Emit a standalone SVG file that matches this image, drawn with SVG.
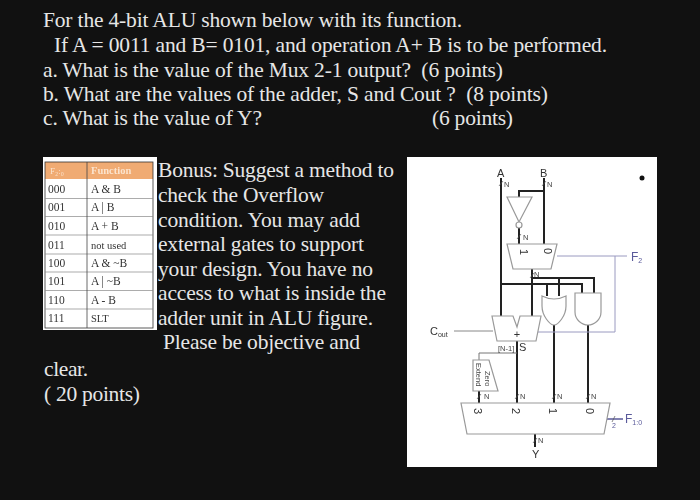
<svg xmlns="http://www.w3.org/2000/svg" width="700" height="500" viewBox="0 0 700 500">
<defs>
<style>
.q{font-family:"Liberation Serif","Times New Roman",serif;font-size:21.5px;fill:#e6e6e6;white-space:pre}
.t{font-family:"Liberation Serif",serif;font-size:11.5px;fill:#333}
.l{font-family:"Liberation Sans",Arial,sans-serif;font-size:11px;fill:#333}
.n{font-family:"Liberation Sans",Arial,sans-serif;font-size:7.5px;fill:#444}
.b{font-family:"Liberation Sans",Arial,sans-serif;fill:#5a5a9a}
.w{fill:none;stroke:#222;stroke-width:2}
.g{fill:#fff;stroke:#999;stroke-width:1.200}
.f{fill:none;stroke:#9a9ac0;stroke-width:1}
.r{stroke:#888;stroke-width:.7}
</style>
<filter id="soft" x="-5%" y="-5%" width="110%" height="110%"><feGaussianBlur stdDeviation="0.4"/></filter>
</defs>
<rect width="700" height="500" fill="#111"/>
<g id="question">
<text class="q" x="43" y="27" textLength="419">For the 4-bit ALU shown below with its function.</text>
<text class="q" x="54" y="52" textLength="553">If A = 0011 and B= 0101, and operation A+ B is to be performed.</text>
<text class="q" x="43" y="77" textLength="460">a. What is the value of the Mux 2-1 output?  (6 points)</text>
<text class="q" x="43" y="101" textLength="505">b. What are the values of the adder, S and Cout ?  (8 points)</text>
<text class="q" x="43" y="125" textLength="219">c. What is the value of Y?</text>
<text class="q" x="432" y="125" textLength="81">(6 points)</text>
</g>
<g id="function-table" filter="url(#soft)">
<rect x="43" y="157" width="114" height="173" fill="#fff"/>
<rect x="45" y="162" width="108" height="17" fill="#f0ab73"/>
<rect x="45" y="162" width="108" height="166" fill="none" stroke="#333" stroke-width=".8"/>
<path class="r" d="M45 198.500H153M45 216.500H153M45 235H153M45 254H153M45 272H153M45 290.500H153M45 309H153"/>
<path d="M87 162V328" stroke="#444" stroke-width=".8"/>
<text x="50" y="174" font-family="Liberation Serif,serif" font-size="9" fill="#fbe3cd">F₂:₀</text>
<text x="91" y="174" font-family="Liberation Serif,serif" font-size="10.500" font-weight="bold" fill="#fbe3cd">Function</text>
<g class="t">
<text x="48" y="193">000</text><text x="91" y="193">A &amp; B</text>
<text x="48" y="211">001</text><text x="91" y="211">A | B</text>
<text x="48" y="230">010</text><text x="91" y="230">A + B</text>
<text x="48" y="249">011</text><text x="91" y="249" font-size="10.500">not used</text>
<text x="48" y="267">100</text><text x="91" y="267">A &amp; ~B</text>
<text x="48" y="285">101</text><text x="91" y="285">A | ~B</text>
<text x="48" y="304">110</text><text x="91" y="304">A - B</text>
<text x="48" y="322">111</text><text x="91" y="322" font-size="10.500">SLT</text>
</g>
</g>
<g id="bonus">
<text class="q" x="158" y="177" textLength="236">Bonus: Suggest a method to</text>
<text class="q" x="158" y="202" textLength="166">check the Overflow</text>
<text class="q" x="158" y="227" textLength="202">condition. You may add</text>
<text class="q" x="158" y="251" textLength="206">external gates to support</text>
<text class="q" x="158" y="276" textLength="215">your design. You have no</text>
<text class="q" x="158" y="300" textLength="228">access to what is inside the</text>
<text class="q" x="158" y="325" textLength="215">adder unit in ALU figure.</text>
<text class="q" x="163" y="349" textLength="197">Please be objective and</text>
<text class="q" x="44" y="376" textLength="44">clear.</text>
<text class="q" x="44" y="401" textLength="96">( 20 points)</text>
</g>
<rect id="panel" x="407" y="157" width="250" height="310" fill="#fff"/>
<circle id="dot" cx="642" cy="178" r="2.500" fill="#111"/>
<g id="diagram" filter="url(#soft)">
<g id="connectors">
<path class="w" d="M501 178V316M544 178V244M544 191H519V197M519 228V244"/>
<path class="w" d="M532 269V316M532 278H594V293M501 284H582V293M547 284V296M559 278V296"/>
<path class="w" d="M517 341V403M554 325V403M588 325V403M479 391V403M535 434V447"/>
<path d="M517 353H479V360" fill="none" stroke="#777" stroke-width="1"/>
<path d="M454 331H493" stroke="#888" stroke-width="1"/>
<path class="f" d="M557 256H627M615 256V332H538"/>
<path d="M607 419H623" stroke="#5a5a9a" stroke-width="1.500"/>
<path d="M499 186l4-5M542 186l4-5M517 239l4-5M530 278l4-5M515 399l4-5M552 399l4-5M586 399l4-5M477 399l4-5M533 443l4-5M612 422l3-6" stroke="#555" stroke-width=".7"/>
</g>
<g id="inverter">
<path class="g" d="M507 197H532L519 222Z"/>
<circle class="g" cx="519" cy="225" r="3"/>
</g>
<g id="mux-2-1">
<path class="g" d="M507 244H557L551 269H513Z"/>
<text class="l" x="520" y="252" transform="rotate(90 520 252)" text-anchor="middle" font-size="10">1</text>
<text class="l" x="544" y="251" transform="rotate(90 544 251)" text-anchor="middle" font-size="10">0</text>
</g>
<g id="or-gate">
<path class="g" d="M542 296Q554 302 566 296V306C566 316 558 325 554 325C550 325 542 316 542 306Z"/>
</g>
<g id="and-gate">
<path class="g" d="M575 293H601V312C601 320 594 325 588 325C582 325 575 320 575 312Z"/>
</g>
<g id="adder">
<path class="g" d="M492 316H513L517 327L520 316H541L536 341H497Z"/>
<text class="l" x="517" y="338" text-anchor="middle">+</text>
</g>
<g id="zero-extend">
<path class="g" d="M473 360H489L498 391H473Z"/>
<text class="n" x="476" y="363" transform="rotate(90 476 363)" font-size="8">Extend</text>
<text class="n" x="485" y="371" transform="rotate(90 485 371)" font-size="8">Zero</text>
</g>
<g id="mux-4-1">
<path class="g" d="M461 403H610L604 434H467Z"/>
<text class="l" x="474" y="408" transform="rotate(90 474 408)">3</text>
<text class="l" x="512" y="408" transform="rotate(90 512 408)">2</text>
<text class="l" x="549" y="408" transform="rotate(90 549 408)">1</text>
<text class="l" x="586" y="408" transform="rotate(90 586 408)">0</text>
</g>
<g id="labels">
<text class="l" x="497" y="177">A</text>
<text class="l" x="540" y="177">B</text>
<text class="n" x="504" y="187">N</text><text class="n" x="547" y="187">N</text>
<text class="n" x="523" y="240">N</text><text class="n" x="534" y="277">N</text>
<text class="n" x="484" y="399">N</text><text class="n" x="520" y="399">N</text>
<text class="n" x="557" y="399">N</text><text class="n" x="591" y="399">N</text>
<text class="n" x="538" y="443">N</text>
<text class="l" x="430" y="335" font-size="12">C<tspan font-size="7" dy="2">out</tspan></text>
<text class="n" x="498" y="351">[N-1]</text>
<text class="l" x="519" y="351" font-size="12">S</text>
<text class="l" x="532" y="458" font-size="13">Y</text>
<text class="b" x="631" y="261" font-size="12">F<tspan font-size="7" dy="2">2</tspan></text>
<text class="b" x="625" y="423" font-size="12">F<tspan font-size="7" dy="2">1:0</tspan></text>
<text class="b" x="612" y="428" font-size="7">2</text>
</g>
</g>
</svg>
